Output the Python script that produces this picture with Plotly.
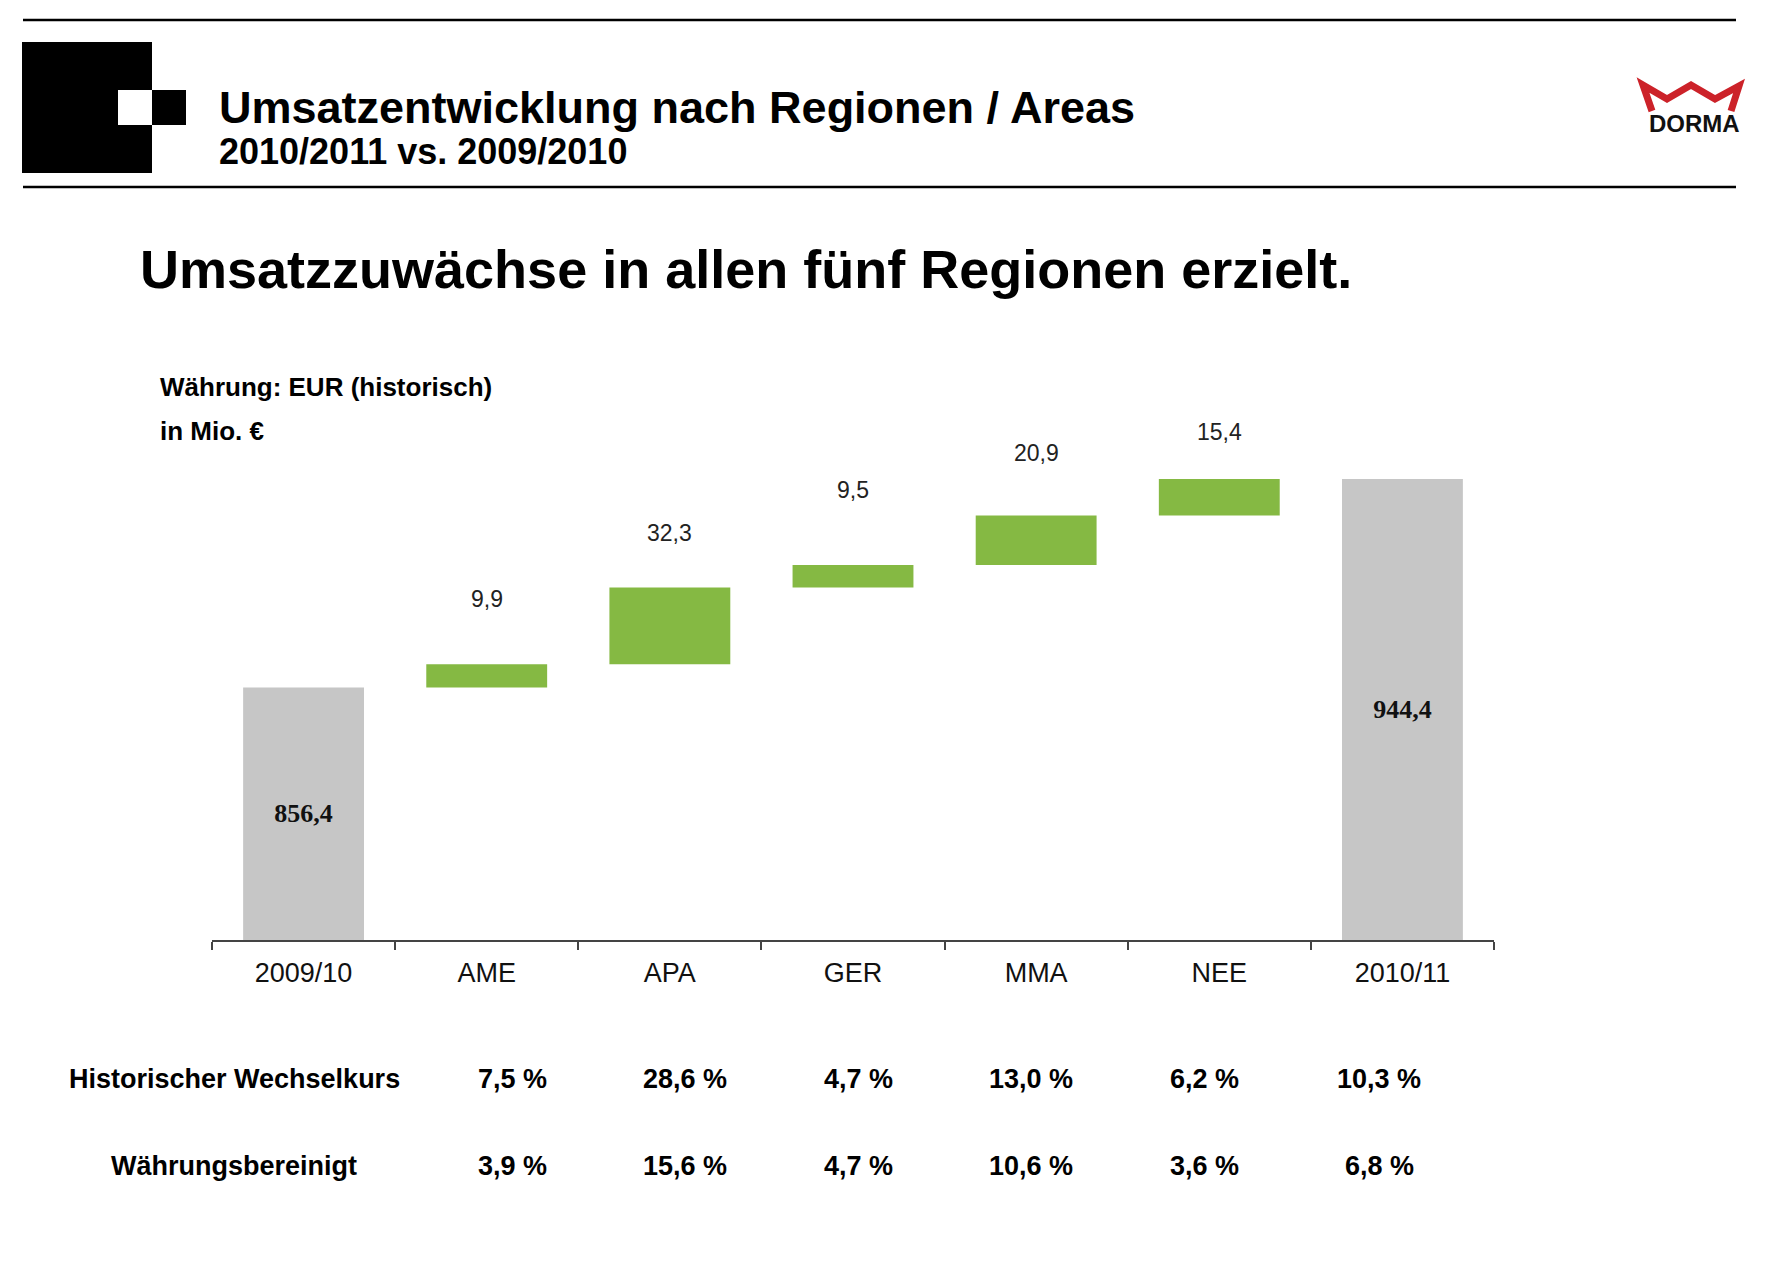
import numpy as np
import plotly.graph_objects as go

# ---------------- data ----------------
categories = ["2009/10", "AME", "APA", "GER", "MMA", "NEE", "2010/11"]
start_total = 856.4
end_total = 944.4
regions = ["AME", "APA", "GER", "MMA", "NEE"]
region_growth = [9.9, 32.3, 9.5, 20.9, 15.4]
row_labels = ["Historischer Wechselkurs", "Währungsbereinigt"]
historic_pct = [7.5, 28.6, 4.7, 13.0, 6.2, 10.3]
adjusted_pct = [3.9, 15.6, 4.7, 10.6, 3.6, 6.8]

# ---------------- layout constants ----------------
W, H = 1772, 1265
ML, MR, MT, MB = 212, 278, 347, 325
AXIS_MIN, AXIS_MAX = 750, 1000
PW, PH = W - ML - MR, H - MT - MB

def fx(px):
    return (px - ML) / PW

def fy(py):
    return (H - MB - py) / PH

def de(v, nd=1):
    return f"{v:.{nd}f}".replace(".", ",")

GREY = "#c6c6c6"
GREEN = "#85b943"
SANS = "Liberation Sans, Arial, sans-serif"
SERIF = "Liberation Serif, Times New Roman, serif"

fig = go.Figure()

# total bars (truncated axis -> drawn from the axis floor)
fig.add_trace(go.Bar(
    x=[categories[0], categories[-1]],
    y=[start_total - AXIS_MIN, end_total - AXIS_MIN],
    base=AXIS_MIN,
    marker=dict(color=GREY, line=dict(width=0)),
    text=[f"<b>{de(start_total)}</b>", f"<b>{de(end_total)}</b>"],
    textposition="inside",
    insidetextanchor="middle",
    textangle=0,
    constraintext="none",
    textfont=dict(family=SERIF, size=26, color="#111111"),
    hoverinfo="skip",
))

# increments
growth = np.array(region_growth)
bases = start_total + np.concatenate([[0], np.cumsum(growth)[:-1]])
fig.add_trace(go.Bar(
    x=regions,
    y=growth,
    base=bases,
    marker=dict(color=GREEN, line=dict(width=0)),
    hoverinfo="skip",
))

annotations = []
label_shift = [65, 55, 75, 62, 47]
for r, g, b, s in zip(regions, growth, bases, label_shift):
    annotations.append(dict(
        x=r, y=b + g, xref="x", yref="y", yshift=s, text=de(g),
        showarrow=False, yanchor="middle",
        font=dict(family=SANS, size=23, color="#222222"),
    ))

# header texts
annotations += [
    dict(x=fx(217), y=fy(108), xref="paper", yref="paper", xanchor="left", yanchor="middle",
         text="<b>Umsatzentwicklung nach Regionen / Areas</b>", showarrow=False,
         font=dict(family=SANS, size=45, color="#000000")),
    dict(x=fx(217), y=fy(151), xref="paper", yref="paper", xanchor="left", yanchor="middle",
         text="<b>2010/2011 vs. 2009/2010</b>", showarrow=False,
         font=dict(family=SANS, size=36, color="#000000")),
    dict(x=fx(138), y=fy(269), xref="paper", yref="paper", xanchor="left", yanchor="middle",
         text="<b>Umsatzzuwächse in allen fünf Regionen erzielt.</b>", showarrow=False,
         font=dict(family=SANS, size=54, color="#000000")),
    dict(x=fx(158), y=fy(387), xref="paper", yref="paper", xanchor="left", yanchor="middle",
         text="<b>Währung: EUR (historisch)</b>", showarrow=False,
         font=dict(family=SANS, size=26, color="#000000")),
    dict(x=fx(158), y=fy(431), xref="paper", yref="paper", xanchor="left", yanchor="middle",
         text="<b>in Mio. €</b>", showarrow=False,
         font=dict(family=SANS, size=26, color="#000000")),
    dict(x=fx(1694), y=fy(124), xref="paper", yref="paper", xanchor="center", yanchor="middle",
         text="<b>DORMA</b>", showarrow=False,
         font=dict(family=SANS, size=24, color="#111111")),
]

# percentage rows
row_y = [1079, 1166]
col_x = [512, 685, 858, 1031, 1204, 1379]
for lbl, vals, py in zip(row_labels, [historic_pct, adjusted_pct], row_y):
    annotations.append(dict(
        x=fx(234), y=fy(py), xref="paper", yref="paper", xanchor="center", yanchor="middle",
        text=f"<b>{lbl}</b>", showarrow=False,
        font=dict(family=SANS, size=27, color="#000000")))
    for v, px in zip(vals, col_x):
        annotations.append(dict(
            x=fx(px), y=fy(py), xref="paper", yref="paper", xanchor="center", yanchor="middle",
            text=f"<b>{de(v)} %</b>", showarrow=False,
            font=dict(family=SANS, size=27, color="#000000")))

shapes = [
    dict(type="line", xref="paper", yref="paper", x0=fx(23), x1=fx(1736), y0=fy(20), y1=fy(20),
         line=dict(color="#000000", width=2.5)),
    dict(type="line", xref="paper", yref="paper", x0=fx(23), x1=fx(1736), y0=fy(187), y1=fy(187),
         line=dict(color="#000000", width=2.5)),
    dict(type="rect", xref="paper", yref="paper", x0=fx(22), x1=fx(152), y0=fy(173), y1=fy(42),
         fillcolor="#000000", line=dict(width=0)),
    dict(type="rect", xref="paper", yref="paper", x0=fx(118), x1=fx(152), y0=fy(125), y1=fy(90),
         fillcolor="#ffffff", line=dict(width=0)),
    dict(type="rect", xref="paper", yref="paper", x0=fx(152), x1=fx(186), y0=fy(125), y1=fy(90),
         fillcolor="#000000", line=dict(width=0)),
]
crown = [(1652, 111), (1643, 85), (1667, 99), (1691, 85), (1715, 99), (1739, 86), (1731, 111)]
path = "M " + " L ".join(f"{fx(x):.5f},{fy(y):.5f}" for x, y in crown)
shapes.append(dict(type="path", xref="paper", yref="paper", path=path,
                   line=dict(color="#cc2229", width=7)))

fig.update_layout(
    width=W, height=H,
    margin=dict(l=ML, r=MR, t=MT, b=MB, pad=0),
    paper_bgcolor="#ffffff", plot_bgcolor="#ffffff",
    showlegend=False, barmode="overlay", bargap=0.34,
    annotations=annotations, shapes=shapes,
    xaxis=dict(
        categoryorder="array", categoryarray=categories,
        showline=True, linecolor="#444444", linewidth=1.5,
        ticks="outside", tickson="boundaries", ticklen=8, tickwidth=1.5, tickcolor="#444444",
        tickfont=dict(family=SANS, size=27, color="#111111"),
        ticklabelstandoff=8,
        showgrid=False, zeroline=False, fixedrange=True,
    ),
    yaxis=dict(range=[AXIS_MIN, AXIS_MAX], visible=False, showgrid=False, zeroline=False),
)

fig.write_html("out.html")
